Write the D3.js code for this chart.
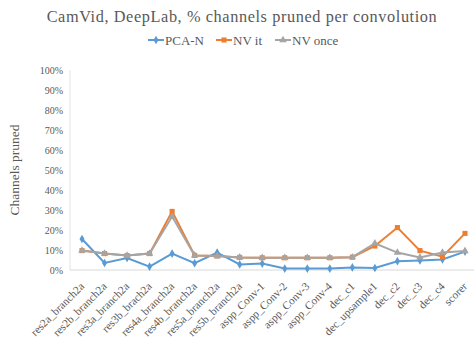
<!DOCTYPE html>
<html><head><meta charset="utf-8">
<script src="https://cdn.jsdelivr.net/npm/d3@7"></script>
<style>body{margin:0;background:#fff}svg{display:block}</style>
</head><body>
<script>
const categories = ["res2a_branch2a","res2b_branch2a","res3a_branch2a","res3b_brach2a","res4a_branch2a","res4b_branch2a","res5a_branch2a","res5b_branch2a","aspp_Conv-1","aspp_Conv-2","aspp_Conv-3","aspp_Conv-4","dec_c1","dec_upsample1","dec_c2","dec_c3","dec_c4","scorer"];
const pcaN   = [15.5,3.5,6,1.7,8.2,3.4,8.7,2.8,3.2,0.7,0.7,0.7,1.3,1.0,4.4,4.8,5.3,9.2];
const nvIt   = [9.7,8.2,7.2,8.2,29.3,7.3,7.0,6.3,6.1,6.1,6.1,6.1,6.4,12.0,21.2,9.7,6.7,18.3];
const nvOnce = [9.7,8.2,7.2,8.2,26.7,7.3,7.0,6.3,6.1,6.1,6.1,6.1,6.4,13.3,8.7,6.3,8.7,9.5];
const yTicks = [0,10,20,30,40,50,60,70,80,90,100];
const seriesNames = ["PCA-N","NV it","NV once"];
const colors = ["#5B9BD5","#ED7D31","#A5A5A5"];

const W=474,H=349;
const svg=d3.select("body").append("svg").attr("width",W).attr("height",H);
const font="Liberation Serif";
const x=d3.scalePoint().domain(categories).range([82,465]);
const y=d3.scaleLinear().domain([0,100]).range([270,70]);

svg.append("text").attr("x",242).attr("y",22).attr("text-anchor","middle")
  .attr("font-family",font).attr("font-size",16.3).attr("fill","#595959").attr("letter-spacing",0.6)
  .text("CamVid, DeepLab, % channels pruned per convolution");

// axes lines
svg.append("line").attr("x1",70).attr("x2",70).attr("y1",y(100)).attr("y2",y(0)).attr("stroke","#e3e3e3");
svg.append("line").attr("x1",70).attr("x2",476).attr("y1",y(0)).attr("y2",y(0)).attr("stroke","#d9d9d9");

svg.selectAll(".yt").data(yTicks).enter().append("text")
  .attr("x",63).attr("y",d=>y(d)+3.5).attr("text-anchor","end")
  .attr("font-family",font).attr("font-size",10).attr("fill","#595959").text(d=>d+"%");

svg.append("text").attr("transform","translate(19,170) rotate(-90)").attr("text-anchor","middle")
  .attr("font-family",font).attr("font-size",13.5).attr("fill","#595959").text("Channels pruned");

svg.selectAll(".xt").data(categories).enter().append("text")
  .attr("transform",d=>`translate(${x(d)+3},${y(0)+17}) rotate(-45)`).attr("text-anchor","end")
  .attr("font-family",font).attr("font-size",11.2).attr("fill","#595959").text(d=>d);

const line=d3.line().x((d,i)=>x(categories[i])).y(d=>y(d));
const data=[pcaN,nvIt,nvOnce];
const sym=[d3.symbolDiamond,d3.symbolSquare,d3.symbolTriangle];
const sizes=[22,26,24];
data.forEach((vals,k)=>{
  svg.append("path").datum(vals).attr("d",line).attr("fill","none").attr("stroke",colors[k]).attr("stroke-width",2);
  svg.selectAll(".m"+k).data(vals).enter().append("path")
    .attr("d",d3.symbol().type(sym[k]).size(sizes[k]))
    .attr("transform",(d,i)=>`translate(${x(categories[i])},${y(d)})`).attr("fill",colors[k]);
});

// legend
const leg=[{x:148},{x:216},{x:275}];
seriesNames.forEach((n,k)=>{
  const lx=leg[k].x, ly=40;
  svg.append("line").attr("x1",lx).attr("x2",lx+16).attr("y1",ly).attr("y2",ly).attr("stroke",colors[k]).attr("stroke-width",2);
  svg.append("path").attr("d",d3.symbol().type(sym[k]).size(sizes[k])).attr("transform",`translate(${lx+8},${ly})`).attr("fill",colors[k]);
  svg.append("text").attr("x",lx+17).attr("y",ly+4.5).attr("font-family",font).attr("font-size",13).attr("fill","#595959").text(n);
});
</script>
</body></html>
